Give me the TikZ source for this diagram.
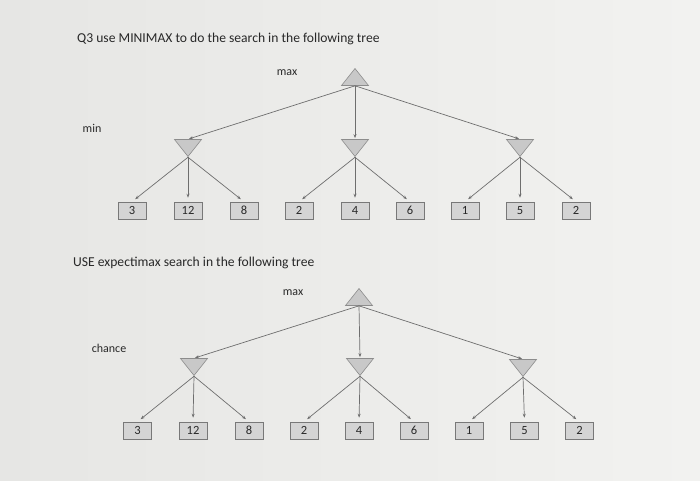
\documentclass[tikz,border=0pt]{standalone}
\usepackage{fontspec}
\setmainfont{Carlito}
\usetikzlibrary{shapes.geometric,arrows.meta}
\definecolor{bgL}{RGB}{230,230,228}
\definecolor{bgR}{RGB}{242,242,240}
\definecolor{trifill}{RGB}{200,200,200}
\definecolor{tridraw}{RGB}{140,140,140}
\definecolor{boxfill}{RGB}{212,212,212}
\definecolor{boxdraw}{RGB}{120,120,120}
\definecolor{edge}{RGB}{110,110,110}
\definecolor{txt}{RGB}{40,40,40}
\tikzset{
  x=1pt,y=-1pt,
  tri/.style={isosceles triangle, isosceles triangle stretches, minimum width=27pt, minimum height=17pt,
     inner sep=0pt, fill=trifill, draw=tridraw, line width=0.6pt},
  upnode/.style={tri, shape border rotate=90},
  downnode/.style={tri, shape border rotate=-90},
  leaf/.style={rectangle, minimum width=28pt, minimum height=17pt, inner sep=0pt, fill=boxfill,
     draw=boxdraw, line width=0.6pt, font=\fontsize{12.5}{12.5}\selectfont, text=txt},
  conn/.style={draw=edge, line width=0.7pt, -{Stealth[length=4pt,width=3pt]}, shorten >=1pt},
  lconn/.style={conn, shorten >=4pt},
  lbl/.style={font=\fontsize{12}{14}\selectfont, text=txt, inner sep=0pt},
  ttl/.style={font=\fontsize{13.6}{16}\selectfont, text=txt, inner sep=0pt, anchor=west}
}
\begin{document}
\begin{tikzpicture}
\shade[left color=bgL, right color=bgR] (0,0) rectangle (700,480);
\useasboundingbox (0,0) rectangle (700,480);

% ---------- Top tree (minimax) ----------
\node[ttl] (t1) at (77,39) {Q3 use MINIMAX to do the search in the following tree};
\node[lbl] (lmax1) at (287,73) {max};
\node[lbl] (lmin1) at (92,128) {min};

\node[upnode] (r1) at (355,79) {};
\node[downnode] (a1) at (188,146) {};
\node[downnode] (b1) at (355,146) {};
\node[downnode] (c1) at (520,146) {};

\foreach \n/\x/\v in {a1l/132/3, a1m/188/12, a1r/244/8, b1l/299/2, b1m/355/4, b1r/410/6, c1l/465/1, c1m/520/5, c1r/576/2}
  \node[leaf] (\n) at (\x,210.5) {\v};

\foreach \m in {a1,b1,c1} \draw[conn] (r1.south) -- (\m.north);
\foreach \m in {a1,b1,c1} {
  \draw[lconn] (\m.south) -- (\m l.north);
  \draw[lconn] (\m.south) -- (\m m.north);
  \draw[lconn] (\m.south) -- (\m r.north);
}

% ---------- Bottom tree (expectimax) ----------
\node[ttl] (t2) at (73,263) {USE expectimax search in the following tree};
\node[lbl] (lmax2) at (293,293) {max};
\node[lbl] (lch2) at (109,348) {chance};

\node[upnode] (r2) at (359,299) {};
\node[downnode] (a2) at (194,365) {};
\node[downnode] (b2) at (360,365) {};
\node[downnode] (c2) at (523,366) {};

\foreach \n/\x/\v in {a2l/137.5/3, a2m/193/12, a2r/249/8, b2l/304/2, b2m/359/4, b2r/414/6, c2l/469/1, c2m/524.5/5, c2r/579.5/2}
  \node[leaf] (\n) at (\x,430.5) {\v};

\foreach \m in {a2,b2,c2} \draw[conn] (r2.south) -- (\m.north);
\foreach \m in {a2,b2,c2} {
  \draw[lconn] (\m.south) -- (\m l.north);
  \draw[lconn] (\m.south) -- (\m m.north);
  \draw[lconn] (\m.south) -- (\m r.north);
}
\end{tikzpicture}
\end{document}
